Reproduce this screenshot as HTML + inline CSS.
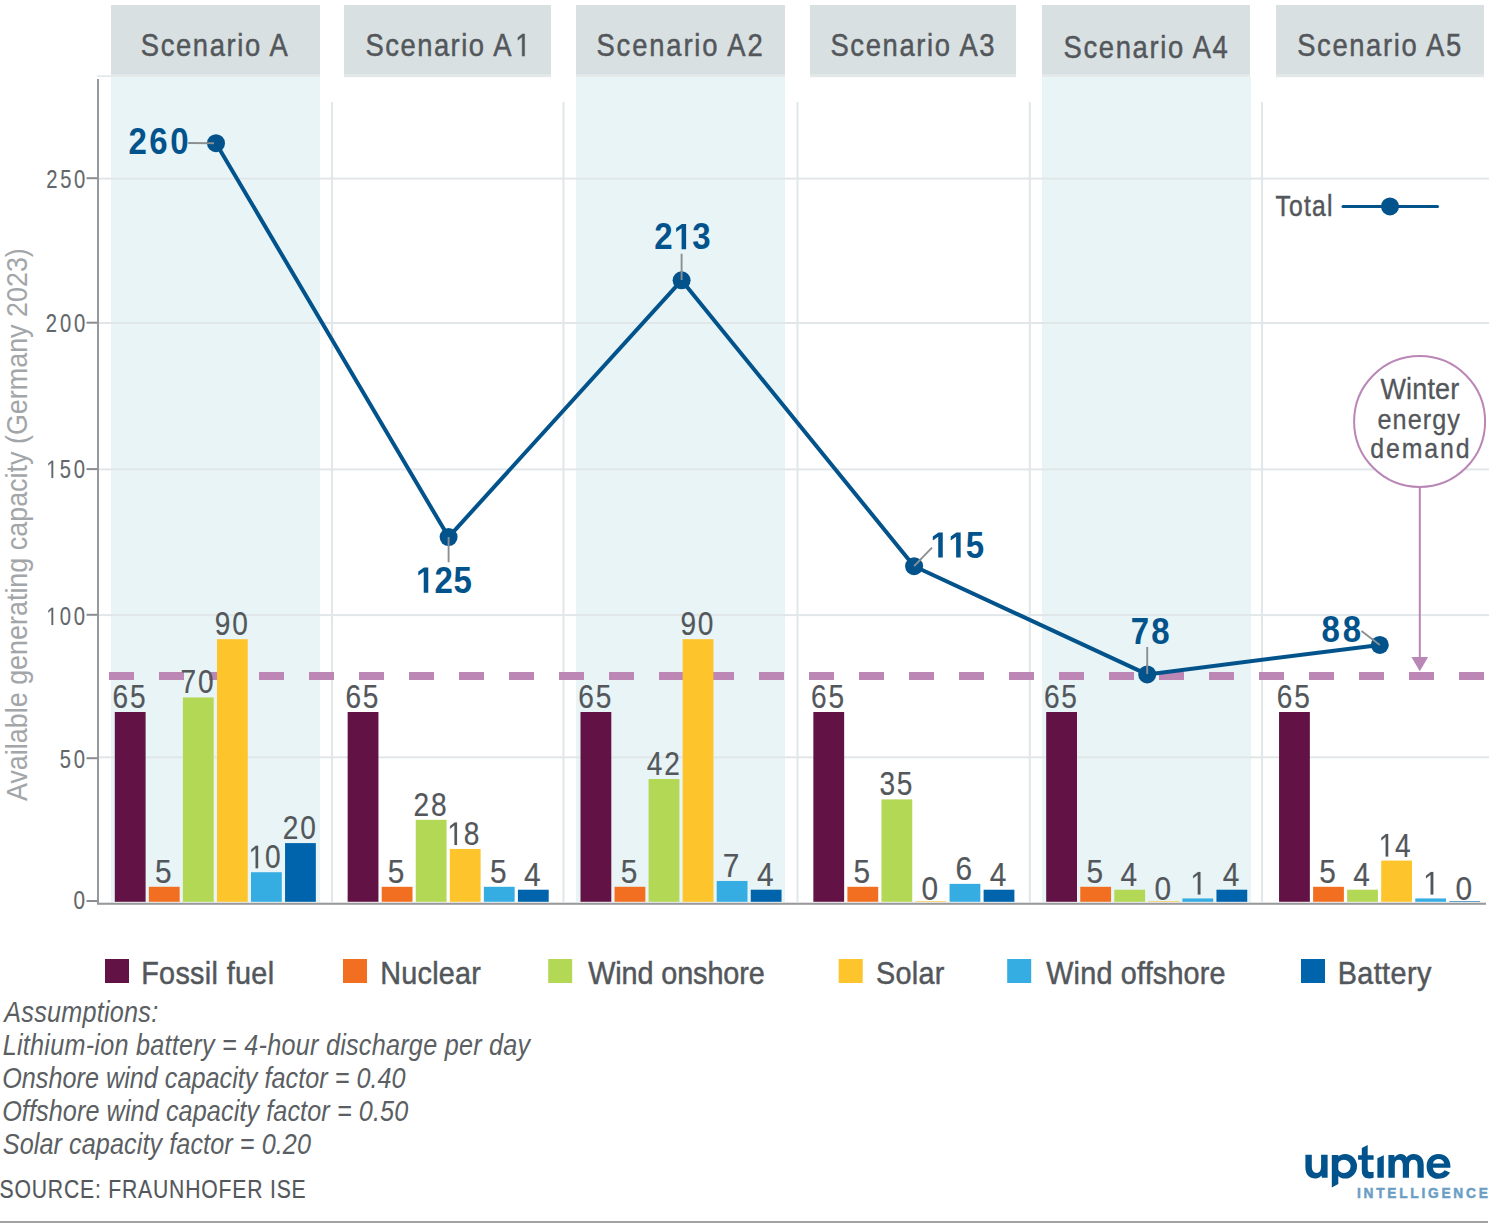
<!DOCTYPE html>
<html><head><meta charset="utf-8"><style>html,body{margin:0;padding:0;background:#fff;width:1495px;height:1225px;overflow:hidden}</style></head>
<body>
<svg width="1495" height="1225" viewBox="0 0 1495 1225" style="display:block;font-family:'Liberation Sans', sans-serif">
<rect x="0" y="0" width="1495" height="1225" fill="#ffffff"/>
<rect x="111" y="5" width="209" height="69.8" fill="#d9e0e2"/>
<rect x="111" y="74.8" width="209" height="2.4" fill="#e3e8e9"/>
<rect x="344" y="5" width="207" height="69.8" fill="#d9e0e2"/>
<rect x="344" y="74.8" width="207" height="2.4" fill="#e3e8e9"/>
<rect x="576" y="5" width="209" height="69.8" fill="#d9e0e2"/>
<rect x="576" y="74.8" width="209" height="2.4" fill="#e3e8e9"/>
<rect x="810" y="5" width="206" height="69.8" fill="#d9e0e2"/>
<rect x="810" y="74.8" width="206" height="2.4" fill="#e3e8e9"/>
<rect x="1042" y="5" width="208" height="69.8" fill="#d9e0e2"/>
<rect x="1042" y="74.8" width="208" height="2.4" fill="#e3e8e9"/>
<rect x="1276" y="5" width="208" height="69.8" fill="#d9e0e2"/>
<rect x="1276" y="74.8" width="208" height="2.4" fill="#e3e8e9"/>
<rect x="97" y="75.3" width="14" height="1.8" fill="#e3e8e9"/>
<rect x="111" y="77.2" width="209" height="824.8" fill="#e8f4f6"/>
<rect x="576" y="77.2" width="209" height="824.8" fill="#e8f4f6"/>
<rect x="1042" y="77.2" width="209" height="824.8" fill="#e8f4f6"/>
<rect x="99" y="177.6" width="1390" height="2" fill="#e1e7e9"/>
<rect x="99" y="322.0" width="1390" height="2" fill="#e1e7e9"/>
<rect x="99" y="468.4" width="1390" height="2" fill="#e1e7e9"/>
<rect x="99" y="614.1" width="1390" height="2" fill="#e1e7e9"/>
<rect x="99" y="756.3" width="1390" height="2" fill="#e1e7e9"/>
<rect x="331.0" y="102" width="2" height="800" fill="#e1e7e9"/>
<rect x="562.5" y="102" width="2" height="800" fill="#e1e7e9"/>
<rect x="796.5" y="102" width="2" height="800" fill="#e1e7e9"/>
<rect x="1028.8" y="102" width="2" height="800" fill="#e1e7e9"/>
<rect x="1261.0" y="102" width="2" height="800" fill="#e1e7e9"/>
<text transform="translate(140.86,56.10) scale(0.8500,1)" font-size="32.22" font-weight="normal" font-style="normal" fill="#53575b" letter-spacing="1.884" stroke="#53575b" stroke-width="0.5" >Scenario A</text>
<path transform="translate(514.49,56.10) scale(0.01337,-0.01573)" d="M575,0 L575,1237 L257,1010 L257,1180 L590,1409 L756,1409 L756,0 Z" fill="#53575b" stroke="#53575b" stroke-width="31.8"/>
<text transform="translate(365.46,56.10) scale(0.8500,1)" font-size="32.22" font-weight="normal" font-style="normal" fill="#53575b" letter-spacing="1.771" stroke="#53575b" stroke-width="0.5" >Scenario A </text>
<text transform="translate(596.46,56.10) scale(0.8500,1)" font-size="32.22" font-weight="normal" font-style="normal" fill="#53575b" letter-spacing="2.189" stroke="#53575b" stroke-width="0.5" >Scenario A2</text>
<text transform="translate(830.46,56.10) scale(0.8500,1)" font-size="32.22" font-weight="normal" font-style="normal" fill="#53575b" letter-spacing="1.933" stroke="#53575b" stroke-width="0.5" >Scenario A3</text>
<text transform="translate(1063.46,58.10) scale(0.8500,1)" font-size="32.22" font-weight="normal" font-style="normal" fill="#53575b" letter-spacing="1.968" stroke="#53575b" stroke-width="0.5" >Scenario A4</text>
<text transform="translate(1297.16,56.10) scale(0.8500,1)" font-size="32.22" font-weight="normal" font-style="normal" fill="#53575b" letter-spacing="1.927" stroke="#53575b" stroke-width="0.5" >Scenario A5</text>
<line x1="109" y1="676" x2="1484" y2="676" stroke="#bc86b5" stroke-width="8" stroke-dasharray="25 25"/>
<rect x="114.80" y="712.01" width="30.8" height="189.78" fill="#621244"/>
<rect x="148.85" y="886.79" width="30.8" height="15.00" fill="#f26f21"/>
<rect x="182.90" y="697.45" width="30.8" height="204.35" fill="#b2d856"/>
<rect x="216.95" y="639.19" width="30.8" height="262.61" fill="#fec42c"/>
<rect x="251.00" y="872.23" width="30.8" height="29.57" fill="#35ade3"/>
<rect x="285.05" y="843.10" width="30.8" height="58.70" fill="#0064ad"/>
<rect x="347.65" y="712.01" width="30.8" height="189.78" fill="#621244"/>
<rect x="381.70" y="886.79" width="30.8" height="15.00" fill="#f26f21"/>
<rect x="415.75" y="819.80" width="30.8" height="82.00" fill="#b2d856"/>
<rect x="449.80" y="848.93" width="30.8" height="52.87" fill="#fec42c"/>
<rect x="483.85" y="886.79" width="30.8" height="15.00" fill="#35ade3"/>
<rect x="517.90" y="889.71" width="30.8" height="12.09" fill="#0064ad"/>
<rect x="580.50" y="712.01" width="30.8" height="189.78" fill="#621244"/>
<rect x="614.55" y="886.79" width="30.8" height="15.00" fill="#f26f21"/>
<rect x="648.60" y="779.01" width="30.8" height="122.79" fill="#b2d856"/>
<rect x="682.65" y="639.19" width="30.8" height="262.61" fill="#fec42c"/>
<rect x="716.70" y="880.97" width="30.8" height="20.83" fill="#35ade3"/>
<rect x="750.75" y="889.71" width="30.8" height="12.09" fill="#0064ad"/>
<rect x="813.35" y="712.01" width="30.8" height="189.78" fill="#621244"/>
<rect x="847.40" y="886.79" width="30.8" height="15.00" fill="#f26f21"/>
<rect x="881.45" y="799.40" width="30.8" height="102.39" fill="#b2d856"/>
<rect x="915.50" y="901.20" width="30.8" height="0.60" fill="#fec42c"/>
<rect x="949.55" y="883.88" width="30.8" height="17.92" fill="#35ade3"/>
<rect x="983.60" y="889.71" width="30.8" height="12.09" fill="#0064ad"/>
<rect x="1046.20" y="712.01" width="30.8" height="189.78" fill="#621244"/>
<rect x="1080.25" y="886.79" width="30.8" height="15.00" fill="#f26f21"/>
<rect x="1114.30" y="889.71" width="30.8" height="12.09" fill="#b2d856"/>
<rect x="1148.35" y="901.20" width="30.8" height="0.60" fill="#fec42c"/>
<rect x="1182.40" y="898.45" width="30.8" height="3.35" fill="#35ade3"/>
<rect x="1216.45" y="889.71" width="30.8" height="12.09" fill="#0064ad"/>
<rect x="1279.05" y="712.01" width="30.8" height="189.78" fill="#621244"/>
<rect x="1313.10" y="886.79" width="30.8" height="15.00" fill="#f26f21"/>
<rect x="1347.15" y="889.71" width="30.8" height="12.09" fill="#b2d856"/>
<rect x="1381.20" y="860.58" width="30.8" height="41.22" fill="#fec42c"/>
<rect x="1415.25" y="898.45" width="30.8" height="3.35" fill="#35ade3"/>
<rect x="1449.30" y="901.20" width="30.8" height="0.60" fill="#0064ad"/>
<rect x="97" y="79" width="2" height="825" fill="#97999c"/>
<rect x="97" y="902.7" width="1389" height="2.1" fill="#97999c"/>
<rect x="86.5" y="177.2" width="11" height="2" fill="#8a8d91"/>
<rect x="86.5" y="321.7" width="11" height="2" fill="#8a8d91"/>
<rect x="86.5" y="468.1" width="11" height="2" fill="#8a8d91"/>
<rect x="86.5" y="613.8" width="11" height="2" fill="#8a8d91"/>
<rect x="86.5" y="757.2" width="11" height="2" fill="#8a8d91"/>
<rect x="86.5" y="900.0" width="11" height="2" fill="#8a8d91"/>
<text transform="translate(46.29,187.60) scale(0.8000,1)" font-size="25.21" font-weight="normal" font-style="normal" fill="#63676b" letter-spacing="3.348" stroke="#63676b" stroke-width="0.15" >250</text>
<text transform="translate(45.79,331.60) scale(0.8000,1)" font-size="25.21" font-weight="normal" font-style="normal" fill="#63676b" letter-spacing="3.661" stroke="#63676b" stroke-width="0.15" >200</text>
<path transform="translate(45.77,478.00) scale(0.00985,-0.01231)" d="M575,0 L575,1237 L257,1010 L257,1180 L590,1409 L756,1409 L756,0 Z" fill="#63676b" stroke="#63676b" stroke-width="12.2"/>
<text transform="translate(45.77,478.00) scale(0.8000,1)" font-size="25.21" font-weight="normal" font-style="normal" fill="#63676b" letter-spacing="3.484" stroke="#63676b" stroke-width="0.15" > 50</text>
<path transform="translate(45.77,625.10) scale(0.00985,-0.01231)" d="M575,0 L575,1237 L257,1010 L257,1180 L590,1409 L756,1409 L756,0 Z" fill="#63676b" stroke="#63676b" stroke-width="12.2"/>
<text transform="translate(45.77,625.10) scale(0.8000,1)" font-size="25.21" font-weight="normal" font-style="normal" fill="#63676b" letter-spacing="3.484" stroke="#63676b" stroke-width="0.15" > 00</text>
<text transform="translate(59.69,768.20) scale(0.8000,1)" font-size="25.21" font-weight="normal" font-style="normal" fill="#63676b" letter-spacing="3.582" stroke="#63676b" stroke-width="0.15" >50</text>
<text transform="translate(73.49,908.70) scale(0.8216,1)" font-size="25.21" font-weight="normal" font-style="normal" fill="#63676b" stroke="#63676b" stroke-width="0.15" >0</text>
<g transform="translate(27,801) rotate(-90)">
<text transform="translate(-0.05,0) scale(0.9261,1)" font-size="29.07" fill="#a3a6a9">Available generating capacity (Germany 2023)</text>
</g>
<text transform="translate(112.57,708.01) scale(0.8600,1)" font-size="32.65" font-weight="normal" font-style="normal" fill="#53575b" letter-spacing="2.078" stroke="#53575b" stroke-width="0.2" >65</text>
<text transform="translate(154.98,882.79) scale(0.9137,1)" font-size="32.65" font-weight="normal" font-style="normal" fill="#53575b" stroke="#53575b" stroke-width="0.2" >5</text>
<text transform="translate(180.62,693.45) scale(0.8600,1)" font-size="32.65" font-weight="normal" font-style="normal" fill="#53575b" letter-spacing="2.083" stroke="#53575b" stroke-width="0.2" >70</text>
<text transform="translate(214.72,635.19) scale(0.8600,1)" font-size="32.65" font-weight="normal" font-style="normal" fill="#53575b" letter-spacing="2.092" stroke="#53575b" stroke-width="0.2" >90</text>
<path transform="translate(247.74,868.23) scale(0.01371,-0.01594)" d="M575,0 L575,1237 L257,1010 L257,1180 L590,1409 L756,1409 L756,0 Z" fill="#53575b" stroke="#53575b" stroke-width="12.5"/>
<text transform="translate(247.74,868.23) scale(0.8600,1)" font-size="32.65" font-weight="normal" font-style="normal" fill="#53575b" letter-spacing="1.932" stroke="#53575b" stroke-width="0.2" > 0</text>
<text transform="translate(282.78,839.10) scale(0.8600,1)" font-size="32.65" font-weight="normal" font-style="normal" fill="#53575b" letter-spacing="2.085" stroke="#53575b" stroke-width="0.2" >20</text>
<text transform="translate(345.42,708.01) scale(0.8600,1)" font-size="32.65" font-weight="normal" font-style="normal" fill="#53575b" letter-spacing="2.078" stroke="#53575b" stroke-width="0.2" >65</text>
<text transform="translate(387.83,882.79) scale(0.9137,1)" font-size="32.65" font-weight="normal" font-style="normal" fill="#53575b" stroke="#53575b" stroke-width="0.2" >5</text>
<text transform="translate(413.54,815.80) scale(0.8600,1)" font-size="32.65" font-weight="normal" font-style="normal" fill="#53575b" letter-spacing="2.076" stroke="#53575b" stroke-width="0.2" >28</text>
<path transform="translate(446.60,844.93) scale(0.01371,-0.01594)" d="M575,0 L575,1237 L257,1010 L257,1180 L590,1409 L756,1409 L756,0 Z" fill="#53575b" stroke="#53575b" stroke-width="12.5"/>
<text transform="translate(446.60,844.93) scale(0.8600,1)" font-size="32.65" font-weight="normal" font-style="normal" fill="#53575b" letter-spacing="1.923" stroke="#53575b" stroke-width="0.2" > 8</text>
<text transform="translate(489.98,882.79) scale(0.9137,1)" font-size="32.65" font-weight="normal" font-style="normal" fill="#53575b" stroke="#53575b" stroke-width="0.2" >5</text>
<text transform="translate(524.10,885.71) scale(0.9137,1)" font-size="32.65" font-weight="normal" font-style="normal" fill="#53575b" stroke="#53575b" stroke-width="0.2" >4</text>
<text transform="translate(578.27,708.01) scale(0.8600,1)" font-size="32.65" font-weight="normal" font-style="normal" fill="#53575b" letter-spacing="2.078" stroke="#53575b" stroke-width="0.2" >65</text>
<text transform="translate(620.68,882.79) scale(0.9137,1)" font-size="32.65" font-weight="normal" font-style="normal" fill="#53575b" stroke="#53575b" stroke-width="0.2" >5</text>
<text transform="translate(646.86,775.01) scale(0.8600,1)" font-size="32.65" font-weight="normal" font-style="normal" fill="#53575b" letter-spacing="2.118" stroke="#53575b" stroke-width="0.2" >42</text>
<text transform="translate(680.42,635.19) scale(0.8600,1)" font-size="32.65" font-weight="normal" font-style="normal" fill="#53575b" letter-spacing="2.092" stroke="#53575b" stroke-width="0.2" >90</text>
<text transform="translate(722.79,876.97) scale(0.9137,1)" font-size="32.65" font-weight="normal" font-style="normal" fill="#53575b" stroke="#53575b" stroke-width="0.2" >7</text>
<text transform="translate(756.95,885.71) scale(0.9137,1)" font-size="32.65" font-weight="normal" font-style="normal" fill="#53575b" stroke="#53575b" stroke-width="0.2" >4</text>
<text transform="translate(811.12,708.01) scale(0.8600,1)" font-size="32.65" font-weight="normal" font-style="normal" fill="#53575b" letter-spacing="2.078" stroke="#53575b" stroke-width="0.2" >65</text>
<text transform="translate(853.53,882.79) scale(0.9137,1)" font-size="32.65" font-weight="normal" font-style="normal" fill="#53575b" stroke="#53575b" stroke-width="0.2" >5</text>
<text transform="translate(879.38,795.40) scale(0.8600,1)" font-size="32.65" font-weight="normal" font-style="normal" fill="#53575b" letter-spacing="2.104" stroke="#53575b" stroke-width="0.2" >35</text>
<text transform="translate(921.60,900.20) scale(0.9137,1)" font-size="32.65" font-weight="normal" font-style="normal" fill="#53575b" stroke="#53575b" stroke-width="0.2" >0</text>
<text transform="translate(955.55,879.88) scale(0.9137,1)" font-size="32.65" font-weight="normal" font-style="normal" fill="#53575b" stroke="#53575b" stroke-width="0.2" >6</text>
<text transform="translate(989.80,885.71) scale(0.9137,1)" font-size="32.65" font-weight="normal" font-style="normal" fill="#53575b" stroke="#53575b" stroke-width="0.2" >4</text>
<text transform="translate(1043.97,708.01) scale(0.8600,1)" font-size="32.65" font-weight="normal" font-style="normal" fill="#53575b" letter-spacing="2.078" stroke="#53575b" stroke-width="0.2" >65</text>
<text transform="translate(1086.38,882.79) scale(0.9137,1)" font-size="32.65" font-weight="normal" font-style="normal" fill="#53575b" stroke="#53575b" stroke-width="0.2" >5</text>
<text transform="translate(1120.50,885.71) scale(0.9137,1)" font-size="32.65" font-weight="normal" font-style="normal" fill="#53575b" stroke="#53575b" stroke-width="0.2" >4</text>
<text transform="translate(1154.45,900.20) scale(0.9137,1)" font-size="32.65" font-weight="normal" font-style="normal" fill="#53575b" stroke="#53575b" stroke-width="0.2" >0</text>
<path transform="translate(1189.42,894.45) scale(0.01457,-0.01594)" d="M575,0 L575,1237 L257,1010 L257,1180 L590,1409 L756,1409 L756,0 Z" fill="#53575b" stroke="#53575b" stroke-width="12.5"/>
<text transform="translate(1189.42,894.45) scale(0.9137,1)" font-size="32.65" font-weight="normal" font-style="normal" fill="#53575b" stroke="#53575b" stroke-width="0.2" > </text>
<text transform="translate(1222.65,885.71) scale(0.9137,1)" font-size="32.65" font-weight="normal" font-style="normal" fill="#53575b" stroke="#53575b" stroke-width="0.2" >4</text>
<text transform="translate(1276.82,708.01) scale(0.8600,1)" font-size="32.65" font-weight="normal" font-style="normal" fill="#53575b" letter-spacing="2.078" stroke="#53575b" stroke-width="0.2" >65</text>
<text transform="translate(1319.23,882.79) scale(0.9137,1)" font-size="32.65" font-weight="normal" font-style="normal" fill="#53575b" stroke="#53575b" stroke-width="0.2" >5</text>
<text transform="translate(1353.35,885.71) scale(0.9137,1)" font-size="32.65" font-weight="normal" font-style="normal" fill="#53575b" stroke="#53575b" stroke-width="0.2" >4</text>
<path transform="translate(1377.79,856.58) scale(0.01371,-0.01594)" d="M575,0 L575,1237 L257,1010 L257,1180 L590,1409 L756,1409 L756,0 Z" fill="#53575b" stroke="#53575b" stroke-width="12.5"/>
<text transform="translate(1377.79,856.58) scale(0.8600,1)" font-size="32.65" font-weight="normal" font-style="normal" fill="#53575b" letter-spacing="1.952" stroke="#53575b" stroke-width="0.2" > 4</text>
<path transform="translate(1422.27,894.45) scale(0.01457,-0.01594)" d="M575,0 L575,1237 L257,1010 L257,1180 L590,1409 L756,1409 L756,0 Z" fill="#53575b" stroke="#53575b" stroke-width="12.5"/>
<text transform="translate(1422.27,894.45) scale(0.9137,1)" font-size="32.65" font-weight="normal" font-style="normal" fill="#53575b" stroke="#53575b" stroke-width="0.2" > </text>
<text transform="translate(1455.40,900.20) scale(0.9137,1)" font-size="32.65" font-weight="normal" font-style="normal" fill="#53575b" stroke="#53575b" stroke-width="0.2" >0</text>
<polyline points="216,143.2 448.6,537.1 681.6,280.3 914.1,566.2 1147.2,674.4 1379.8,644.9" fill="none" stroke="#02538b" stroke-width="4" stroke-linejoin="round"/>
<line x1="188.2" y1="143" x2="214" y2="143.2" stroke="#8c8f92" stroke-width="1.9"/>
<line x1="448.6" y1="537" x2="448.6" y2="562.3" stroke="#8c8f92" stroke-width="1.9"/>
<line x1="681.6" y1="253.7" x2="681.6" y2="280" stroke="#8c8f92" stroke-width="1.9"/>
<line x1="914.1" y1="566.2" x2="932" y2="547.7" stroke="#8c8f92" stroke-width="1.9"/>
<line x1="1147.2" y1="647" x2="1147.2" y2="674" stroke="#8c8f92" stroke-width="1.9"/>
<line x1="1361.5" y1="631" x2="1379.8" y2="644.9" stroke="#8c8f92" stroke-width="1.9"/>
<circle cx="216" cy="143.2" r="9" fill="#02538b"/>
<circle cx="448.6" cy="537.1" r="9" fill="#02538b"/>
<circle cx="681.6" cy="280.3" r="9" fill="#02538b"/>
<circle cx="914.1" cy="566.2" r="9" fill="#02538b"/>
<circle cx="1147.2" cy="674.4" r="9" fill="#02538b"/>
<circle cx="1379.8" cy="644.9" r="9" fill="#02538b"/>
<line x1="206" y1="143.1" x2="214" y2="143.2" stroke="#8c8f92" stroke-width="1.9"/>
<line x1="448.6" y1="537" x2="448.6" y2="546" stroke="#8c8f92" stroke-width="1.9"/>
<line x1="681.6" y1="271" x2="681.6" y2="280" stroke="#8c8f92" stroke-width="1.9"/>
<line x1="914.1" y1="566.2" x2="921" y2="559" stroke="#8c8f92" stroke-width="1.9"/>
<line x1="1147.2" y1="665" x2="1147.2" y2="674" stroke="#8c8f92" stroke-width="1.9"/>
<line x1="1372" y1="639" x2="1379.8" y2="644.9" stroke="#8c8f92" stroke-width="1.9"/>
<text transform="translate(128.56,153.60) scale(0.9000,1)" font-size="36.66" font-weight="bold" font-style="normal" fill="#02538b" letter-spacing="2.746" >260</text>
<path transform="translate(415.40,592.70) scale(0.01611,-0.01790)" d="M518,0 L518,1170 L180,959 L180,1180 L533,1409 L799,1409 L799,0 Z" fill="#02538b"/>
<text transform="translate(415.40,592.70) scale(0.9000,1)" font-size="36.66" font-weight="bold" font-style="normal" fill="#02538b" letter-spacing="0.758" > 25</text>
<path transform="translate(673.25,249.20) scale(0.01611,-0.01790)" d="M518,0 L518,1170 L180,959 L180,1180 L533,1409 L799,1409 L799,0 Z" fill="#02538b"/>
<text transform="translate(654.26,249.20) scale(0.9000,1)" font-size="36.66" font-weight="bold" font-style="normal" fill="#02538b" letter-spacing="0.712" >2 3</text>
<path transform="translate(929.90,557.60) scale(0.01611,-0.01790)" d="M518,0 L518,1170 L180,959 L180,1180 L533,1409 L799,1409 L799,0 Z" fill="#02538b"/>
<path transform="translate(947.78,557.60) scale(0.01611,-0.01790)" d="M518,0 L518,1170 L180,959 L180,1180 L533,1409 L799,1409 L799,0 Z" fill="#02538b"/>
<text transform="translate(929.90,557.60) scale(0.9000,1)" font-size="36.66" font-weight="bold" font-style="normal" fill="#02538b" letter-spacing="-0.520" >  5</text>
<text transform="translate(1130.78,643.90) scale(0.9000,1)" font-size="36.66" font-weight="bold" font-style="normal" fill="#02538b" letter-spacing="2.367" >78</text>
<text transform="translate(1321.55,641.70) scale(0.9000,1)" font-size="36.66" font-weight="bold" font-style="normal" fill="#02538b" letter-spacing="3.066" >88</text>
<text transform="translate(1275.45,216.40) scale(0.8600,1)" font-size="28.63" font-weight="normal" font-style="normal" fill="#53575b" letter-spacing="1.469" stroke="#53575b" stroke-width="0.5" >Total</text>
<line x1="1343" y1="206.4" x2="1437.5" y2="206.4" stroke="#02538b" stroke-width="3" stroke-linecap="round"/>
<circle cx="1390" cy="206.4" r="9" fill="#02538b"/>
<line x1="1419.8" y1="487" x2="1419.8" y2="660" stroke="#ba86b5" stroke-width="2"/>
<path d="M1411.4,657 L1428.1,657 L1419.8,671.2 Z" fill="#ba86b5"/>
<circle cx="1419.6" cy="421.5" r="65.5" fill="#ffffff" stroke="#ba86b5" stroke-width="2"/>
<text transform="translate(1380.38,399.40) scale(0.9200,1)" font-size="29.36" font-weight="normal" font-style="normal" fill="#53575b" letter-spacing="0.179" stroke="#53575b" stroke-width="0.3" >Winter</text>
<text transform="translate(1377.43,428.80) scale(0.9200,1)" font-size="27.45" font-weight="normal" font-style="normal" fill="#53575b" letter-spacing="1.156" stroke="#53575b" stroke-width="0.3" >energy</text>
<text transform="translate(1370.26,458.20) scale(0.9200,1)" font-size="27.05" font-weight="normal" font-style="normal" fill="#53575b" letter-spacing="2.048" stroke="#53575b" stroke-width="0.3" >demand</text>
<rect x="105" y="959" width="24" height="24" fill="#621244"/>
<text transform="translate(141.14,984.20) scale(0.9000,1)" font-size="31.98" font-weight="normal" font-style="normal" fill="#53575b" letter-spacing="0.382" stroke="#53575b" stroke-width="0.5" >Fossil fuel</text>
<rect x="343" y="959" width="24" height="24" fill="#f26f21"/>
<text transform="translate(380.34,984.20) scale(0.9000,1)" font-size="31.98" font-weight="normal" font-style="normal" fill="#53575b" letter-spacing="0.272" stroke="#53575b" stroke-width="0.5" >Nuclear</text>
<rect x="548.2" y="959" width="24" height="24" fill="#b2d856"/>
<text transform="translate(588.17,984.20) scale(0.9000,1)" font-size="31.98" font-weight="normal" font-style="normal" fill="#53575b" letter-spacing="-0.097" stroke="#53575b" stroke-width="0.5" >Wind onshore</text>
<rect x="838.7" y="959" width="24" height="24" fill="#fec42c"/>
<text transform="translate(875.89,984.20) scale(0.9000,1)" font-size="31.98" font-weight="normal" font-style="normal" fill="#53575b" letter-spacing="0.389" stroke="#53575b" stroke-width="0.5" >Solar</text>
<rect x="1007.2" y="959" width="24" height="24" fill="#35ade3"/>
<text transform="translate(1046.27,984.20) scale(0.9000,1)" font-size="31.98" font-weight="normal" font-style="normal" fill="#53575b" letter-spacing="0.218" stroke="#53575b" stroke-width="0.5" >Wind offshore</text>
<rect x="1301" y="959" width="24" height="24" fill="#0064ad"/>
<text transform="translate(1337.64,984.20) scale(0.9000,1)" font-size="31.98" font-weight="normal" font-style="normal" fill="#53575b" letter-spacing="0.471" stroke="#53575b" stroke-width="0.5" >Battery</text>
<text transform="translate(4.24,1022.20) scale(0.8800,1)" font-size="28.63" font-weight="normal" font-style="italic" fill="#5b5f63" letter-spacing="0.291" >Assumptions:</text>
<text transform="translate(2.72,1054.90) scale(0.8800,1)" font-size="28.63" font-weight="normal" font-style="italic" fill="#5b5f63" letter-spacing="0.295" >Lithium-ion battery = 4-hour discharge per day</text>
<text transform="translate(2.13,1087.70) scale(0.8800,1)" font-size="28.63" font-weight="normal" font-style="italic" fill="#5b5f63" letter-spacing="0.033" >Onshore wind capacity factor = 0.40</text>
<text transform="translate(2.13,1120.50) scale(0.8800,1)" font-size="28.63" font-weight="normal" font-style="italic" fill="#5b5f63" letter-spacing="0.117" >Offshore wind capacity factor = 0.50</text>
<text transform="translate(2.79,1154.00) scale(0.8800,1)" font-size="28.63" font-weight="normal" font-style="italic" fill="#5b5f63" letter-spacing="0.096" >Solar capacity factor = 0.20</text>
<text transform="translate(-0.46,1198.10) scale(0.8000,1)" font-size="26.45" font-weight="normal" font-style="normal" fill="#53575b" letter-spacing="1.019" stroke="#53575b" stroke-width="0.15" >SOURCE: FRAUNHOFER ISE</text>
<g fill="#02538b">
<path d="M1305.4,1154.7 H1311.8 V1166 C1311.8,1171 1314,1172.9 1316.5,1172.9 C1319.5,1172.9 1321.1,1170.5 1321.1,1166 V1154.7 H1327.6 V1177.7 H1321.8 L1321.5,1175.5 C1320,1177.5 1318,1178.5 1315.5,1178.5 C1309,1178.5 1305.4,1174.5 1305.4,1167 Z"/>
<path d="M1331.8,1155 H1338.3 V1184.1 L1331.8,1187.6 Z"/>
<path fill-rule="evenodd" d="M1333.5,1166.3 A11.7,12.25 0 1,0 1357,1166.3 A11.7,12.25 0 1,0 1333.5,1166.3 Z M1337.2,1166.35 A6.7,6.55 0 1,0 1350.6,1166.35 A6.7,6.55 0 1,0 1337.2,1166.35 Z"/>
<path d="M1361.8,1148 L1367.7,1145.1 V1155.2 H1373.6 V1159.8 H1367.7 V1169 C1367.7,1171.5 1368.8,1172.1 1370.5,1172.1 H1373.6 V1177.7 C1372.5,1178.2 1371,1178.5 1369.5,1178.5 C1364,1178.5 1361.8,1175.5 1361.8,1170 V1159.8 H1358.1 V1155.2 H1361.8 Z"/>
<path d="M1377.4,1158.2 L1383.8,1155.2 V1177.7 H1377.4 Z"/>
<path d="M1388.4,1155 H1394.3 L1394.6,1157.5 C1396,1155.3 1398,1154 1400.5,1154 C1403.5,1154 1405.5,1155.3 1406.5,1157.5 C1408,1155.3 1410.5,1154 1413.5,1154 C1420,1154 1423.7,1158 1423.7,1165 V1177.7 H1417.5 V1165 C1417.5,1161.5 1416,1159.8 1413.5,1159.8 C1410.8,1159.8 1409,1161.5 1409,1165 V1177.7 H1402.8 V1165 C1402.8,1161.5 1401.3,1159.8 1398.8,1159.8 C1396.2,1159.8 1394.8,1161.5 1394.8,1165 V1177.7 H1388.4 Z"/>
<path fill-rule="evenodd" d="M1450.4,1167.8 H1432.8 C1433.5,1171.5 1435.5,1173.4 1438.8,1173.4 C1441.5,1173.4 1443.2,1172.3 1444.6,1170.3 L1449.9,1172.6 C1447.8,1176.5 1444,1178.8 1438.5,1178.8 C1431,1178.8 1426.6,1173.6 1426.6,1166.4 C1426.6,1159 1431.2,1154 1438.5,1154 C1446,1154 1450.4,1159 1450.4,1166.2 Z M1432.9,1163.5 H1444.2 C1443.6,1160.6 1441.6,1159 1438.6,1159 C1435.6,1159 1433.6,1160.6 1432.9,1163.5 Z"/>
</g>
<text transform="translate(1356.98,1198.10) scale(0.9000,1)" font-size="15.26" font-weight="bold" font-style="normal" fill="#6a9ec4" letter-spacing="3.053" stroke="#6a9ec4" stroke-width="0.5" >INTELLIGENCE</text>
<rect x="0" y="1221" width="1488" height="2" fill="#a0a2a4"/>
</svg>
</body></html>
